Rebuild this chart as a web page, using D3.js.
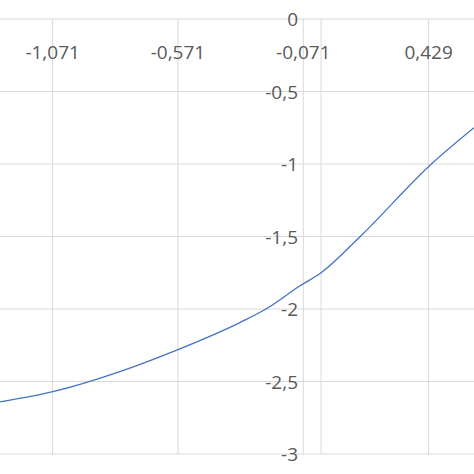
<!DOCTYPE html>
<html><head><meta charset="utf-8">
<script src="https://cdn.jsdelivr.net/npm/d3@7"></script>
<style>body{margin:0;background:#fff}</style></head>
<body><svg id="c" width="474" height="474"></svg>
<script>
const xTicks = [-1.071, -0.571, -0.071, 0.429];
const yTicks = [0, -0.5, -1, -1.5, -2, -2.5, -3];
const xs = [-1.281, -1.07, -0.80, -0.571, -0.32, -0.22, -0.084, 0, 0.156, 0.44, 0.61];
const ys = [-2.64, -2.57, -2.43, -2.28, -2.09, -2.0, -1.84, -1.75, -1.5, -1.0, -0.75];

const svg = d3.select("#c");
const x = d3.scaleLinear().domain([-1.281, 0.61]).range([0, 474]);
const y = d3.scaleLinear().domain([0, -3]).range([19, 454]);
const grid = "#d9d9d9", txt = "#595959", font = "'Open Sans', sans-serif";

svg.selectAll("line.h").data(yTicks).join("line")
  .attr("x1", 0).attr("x2", 474).attr("y1", d => y(d)).attr("y2", d => y(d))
  .attr("stroke", grid).attr("stroke-width", 1);
svg.selectAll("line.v").data(xTicks).join("line")
  .attr("y1", y(0)).attr("y2", y(-3)).attr("x1", d => x(d)).attr("x2", d => x(d))
  .attr("stroke", grid).attr("stroke-width", 1);
svg.append("line").attr("x1", x(0)).attr("x2", x(0)).attr("y1", y(0)).attr("y2", y(-3))
  .attr("stroke", grid).attr("stroke-width", 1);

const fmt = d => String(d).replace(".", ",");
svg.selectAll("text.x").data(xTicks).join("text")
  .attr("x", d => x(d)).attr("y", 59).attr("text-anchor", "middle")
  .attr("font-family", font).attr("font-size", 19).attr("fill", txt).text(fmt);
svg.selectAll("text.y").data(yTicks).join("text")
  .attr("x", 298).attr("y", d => y(d) + 7).attr("text-anchor", "end")
  .attr("font-family", font).attr("font-size", 19).attr("fill", txt).text(fmt);

const pts = xs.map((v, i) => [v, ys[i]]);
svg.append("path").datum(pts)
  .attr("d", d3.line().x(d => x(d[0])).y(d => y(d[1])).curve(d3.curveMonotoneX))
  .attr("fill", "none").attr("stroke", "#4472c4").attr("stroke-width", 1.3);
</script></body></html>
